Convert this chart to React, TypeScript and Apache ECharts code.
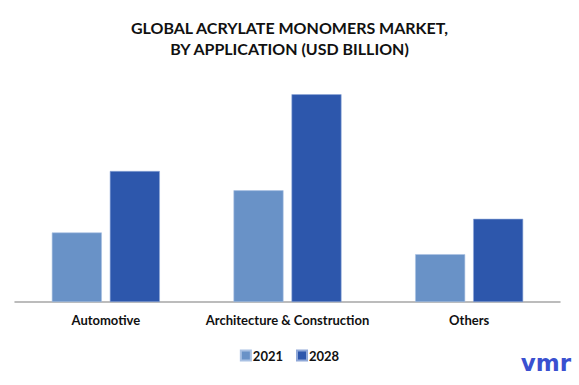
import React, { useEffect, useRef } from "react";
import * as echarts from "echarts";

const categories = ["Automotive", "Architecture & Construction", "Others"];
const values2021 = [1.73, 2.78, 1.19];
const values2028 = [3.26, 5.17, 2.07];
const seriesNames = ["2021", "2028"];
const titleText = "GLOBAL ACRYLATE MONOMERS MARKET,\nBY APPLICATION (USD BILLION)";

export default function App() {
  const ref = useRef<HTMLDivElement>(null);
  useEffect(() => {
    if (!ref.current) return;
    const chart = echarts.init(ref.current, null, { renderer: "svg" });
    const font = "Lato, 'Open Sans', sans-serif";
    chart.setOption({
      animation: false,
      backgroundColor: "#ffffff",
      title: {
        text: titleText,
        left: "center",
        top: 12,
        textStyle: {
          fontFamily: font,
          fontSize: 16,
          fontWeight: "bold",
          color: "#111111",
          lineHeight: 21,
        },
      },
      legend: {
        data: seriesNames,
        bottom: 18,
        left: "center",
        itemWidth: 10,
        itemHeight: 10,
        itemGap: 13,
        icon: "rect",
        textStyle: { fontFamily: font, fontSize: 13, fontWeight: "bold", color: "#111111", padding: [0, 0, 0, -3] },
      },
      grid: { left: 15, right: 19, top: 81, bottom: 83, containLabel: false },
      xAxis: {
        type: "category",
        data: categories,
        axisLine: { lineStyle: { color: "#a6a6a6", width: 1.5 } },
        axisTick: { show: false },
        axisLabel: { interval: 0, fontFamily: font, fontSize: 13, fontWeight: "bold", color: "#111111", margin: 11 },
      },
      yAxis: {
        type: "value",
        min: 0,
        max: 5.5,
        show: false,
        splitLine: { show: false },
      },
      series: [
        {
          name: seriesNames[0],
          type: "bar",
          data: values2021,
          barWidth: 50,
          barGap: "16%",
          itemStyle: { color: "#6992c7", borderColor: "#a9c1e3", borderWidth: 0.6 },
        },
        {
          name: seriesNames[1],
          type: "bar",
          data: values2028,
          barWidth: 50,
          itemStyle: { color: "#2d57ac", borderColor: "#8fa8d8", borderWidth: 0.6 },
        },
      ],
      graphic: [
        {
          type: "text",
          right: 8,
          bottom: 11,
          style: {
            text: "vmr",
            fontFamily: "'DejaVu Sans', sans-serif",
            fontSize: 23,
            fontWeight: 600,
            fill: "#3a50d0",
          },
        },
      ],
    });
    return () => chart.dispose();
  }, []);
  return <div ref={ref} style={{ width: 579, height: 385, position: "absolute", left: 0, top: 0 }} />;
}
